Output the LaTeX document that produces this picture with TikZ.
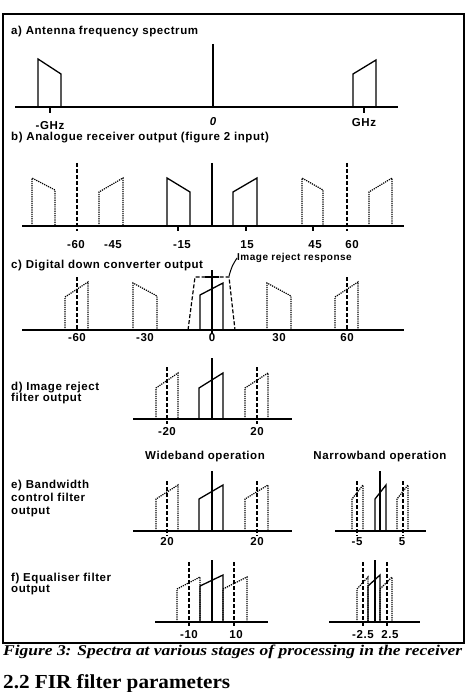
\documentclass[tikz,border=0pt]{standalone}
\usepackage{fontspec}
\usepackage{graphicx}
\newfontfamily\labfont{Liberation Sans}[LetterSpace=5]
\newfontfamily\capfont{Liberation Serif}
\newcommand\sptrap[6]{\draw[#6] (#1,#5)--(#1,#3)--(#2,#4)--(#2,#5);}
\tikzset{
  ax/.style={line width=1.3pt},
  sol/.style={line width=1.3pt, line join=miter},
  img/.style={densely dotted, line width=1.2pt},
  dsh/.style={dash pattern=on 4pt off 2pt, line width=1.2pt},
  lbl/.style={font=\labfont\bfseries\fontsize{11.5}{13}\selectfont, inner sep=0pt},
  sml/.style={font=\labfont\bfseries\fontsize{10}{12}\selectfont, inner sep=0pt},
  ttl/.style={lbl, anchor=base west},
}
\begin{document}
\begin{tikzpicture}[x=1pt,y=-1pt]
\useasboundingbox (0,0) rectangle (474,692);
\fill[white] (0,0) rectangle (474,692);
% frame
\draw[line width=1.4pt] (3,14) rectangle (464,643);

% ---------- a ----------
\node[ttl] (ta) at (11,35) {a) Antenna frequency spectrum};
\draw[ax] (15,107)--(398,107);
\draw[sol] (213,44)--(213,107);
\sptrap{38}{61}{59}{74}{107}{sol}
\sptrap{353}{376}{74}{60}{107}{sol}
\draw[ax] (50,107)--(50,113);
\draw[ax] (364,107)--(364,113);
\node[lbl] (la1) at (50,126) {-GHz};
\node[lbl] (la2) at (213,122) {\itshape 0};
\node[lbl] (la3) at (364,123) {GHz};

% ---------- b ----------
\node[ttl] (tb) at (11,141) {b) Analogue receiver output (figure 2 input)};
\draw[ax] (22,226)--(404,226);
\draw[dsh] (77,163)--(77,231);
\draw[dsh] (347,163)--(347,231);
\draw[sol] (212,163)--(212,226);
\foreach \t in {178,246,313} \draw[ax] (\t,226)--(\t,231);
\sptrap{32}{55}{178}{190}{226}{img}
\sptrap{99}{123}{192}{178}{226}{img}
\sptrap{167}{190}{178}{192}{226}{sol}
\sptrap{233}{257}{192}{178}{226}{sol}
\sptrap{302}{323}{178}{190}{226}{img}
\sptrap{369}{392}{192}{178}{226}{img}
\node[lbl] (lb1) at (76,245) {-60};
\node[lbl] (lb2) at (113,245) {-45};
\node[lbl] (lb3) at (182,245) {-15};
\node[lbl] (lb4) at (247,245) {15};
\node[lbl] (lb5) at (315,245) {45};
\node[lbl] (lb6) at (352,245) {60};

% ---------- c ----------
\node[ttl] (tc) at (11,269) {c) Digital down converter output};
\draw[ax] (22,330)--(404,330);
\draw[dsh] (77,277)--(77,330);
\draw[dsh] (347,277)--(347,330);
\draw[sol] (212,270)--(212,334);
\draw[dsh] (188,330)--(195,277)--(229,277)--(235,330);
\draw[sol] (205,277)--(219,277);
\sptrap{200}{223}{295}{283}{330}{sol}
\sptrap{65}{88}{297}{282}{330}{img}
\sptrap{133}{157}{283}{296}{330}{img}
\sptrap{267}{291}{283}{296}{330}{img}
\sptrap{335}{358}{297}{282}{330}{img}
\node[sml, anchor=west] (irr) at (237,258) {Image reject response};
\draw[line width=1pt] (irr.west) .. controls (232,266) .. (229,276);
\node[lbl] (lc1) at (77,338) {-60};
\node[lbl] (lc2) at (145,338) {-30};
\node[lbl] (lc3) at (212,338) {0};
\node[lbl] (lc4) at (279,338) {30};
\node[lbl] (lc5) at (347,338) {60};

% ---------- d ----------
\node[ttl] (td1) at (11,390) {d) Image reject};
\node[ttl] (td2) at (11,401) {filter output};
\draw[ax] (133,419)--(292,419);
\draw[sol] (212,358)--(212,419);
\sptrap{199}{223}{388}{373}{419}{sol}
\sptrap{156}{178}{388}{373}{419}{img}
\sptrap{245}{268}{388}{373}{419}{img}
\draw[dsh] (167,367)--(167,424);
\draw[dsh] (257,367)--(257,424);
\node[lbl] (ld1) at (167,432) {-20};
\node[lbl] (ld2) at (257,432) {20};
\node[lbl] (wb) at (205,457) {Wideband operation};
\node[lbl] (nb) at (380,457) {Narrowband operation};

% ---------- e ----------
\node[ttl] (te1) at (11,488) {e) Bandwidth};
\node[ttl] (te2) at (11,501) {control filter};
\node[ttl] (te3) at (11,514) {output};
\draw[ax] (133,531)--(292,531);
\draw[sol] (212,471)--(212,531);
\sptrap{199}{223}{499}{485}{531}{sol}
\sptrap{156}{178}{499}{485}{531}{img}
\sptrap{245}{268}{499}{485}{531}{img}
\draw[dsh] (167,481)--(167,536);
\draw[dsh] (257,481)--(257,536);
\node[lbl] (le1) at (167,542) {20};
\node[lbl] (le2) at (257,542) {20};
% narrowband
\draw[ax] (335,531)--(426,531);
\draw[sol] (380,471)--(380,531);
\sptrap{375}{386}{499}{485}{531}{sol}
\sptrap{352}{363}{499}{485}{531}{img}
\sptrap{397}{408}{499}{485}{531}{img}
\draw[dsh] (357,481)--(357,536);
\draw[dsh] (403,481)--(403,536);
\node[lbl] (le3) at (357,542) {-5};
\node[lbl] (le4) at (402,542) {5};

% ---------- f ----------
\node[ttl] (tf1) at (11,581) {f) Equaliser filter};
\node[ttl] (tf2) at (11,592) {output};
\draw[ax] (155,622)--(268,622);
\draw[sol] (212,560)--(212,622);
\sptrap{177}{200}{589}{577}{622}{img}
\sptrap{200}{223}{586}{575}{622}{sol}
\sptrap{223}{247}{589}{577}{622}{img}
\draw[dsh] (189,562)--(189,627);
\draw[dsh] (234,562)--(234,627);
\node[lbl] (lf1) at (189,635) {-10};
\node[lbl] (lf2) at (236,635) {10};
% narrowband
\draw[ax] (329,622)--(420,622);
\draw[sol] (375,560)--(375,622);
\sptrap{357}{368}{589}{577}{622}{img}
\sptrap{368}{380}{586}{575}{622}{sol}
\sptrap{380}{392}{589}{577}{622}{img}
\draw[dsh] (363,562)--(363,627);
\draw[dsh] (387,562)--(387,627);
\node[lbl] (lf3) at (363,635) {-2.5};
\node[lbl] (lf4) at (390,635) {2.5};

% ---------- caption ----------
\node[inner sep=0pt, anchor=base west] (cap) at (3,655) {\resizebox{459pt}{10.5pt}{\capfont\bfseries\itshape Figure 3: Spectra at various stages of processing in the receiver}};
\node[inner sep=0pt, anchor=base west] (sec) at (3,688) {\resizebox{227pt}{14pt}{\capfont\bfseries 2.2 FIR filter parameters}};
\end{tikzpicture}
\end{document}
